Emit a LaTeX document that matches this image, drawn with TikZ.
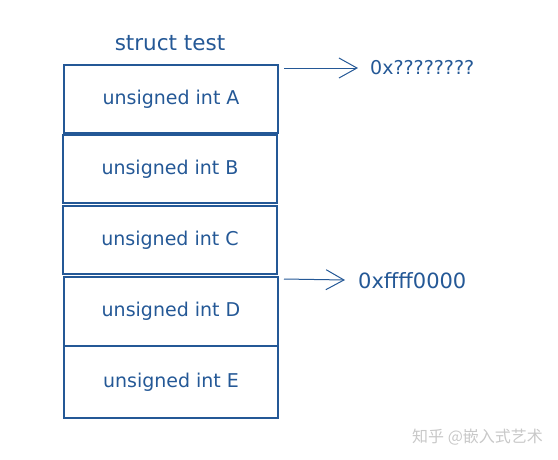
\documentclass[tikz,border=0pt]{standalone}
\usepackage{fontspec}
\setmainfont{DejaVu Sans}
\newfontfamily\cjk{Noto Sans CJK SC}
\usetikzlibrary{arrows.meta,calc}
\definecolor{ink}{RGB}{36,88,150}
\definecolor{wm}{RGB}{200,200,200}
\tikzset{
  field/.style={draw=ink, line width=1.8pt, text=ink, font=\fontsize{19}{22}\selectfont,
    minimum width=214pt, inner sep=0pt, anchor=center},
  lbl/.style={text=ink, font=\fontsize{19}{22}\selectfont, inner sep=0pt},
  ptr/.style={draw=ink, line width=1pt, -{Straight Barb[length=18pt,width=20pt,line width=1pt]}}
}
\begin{document}
\begin{tikzpicture}[x=1pt,y=-1pt]
\useasboundingbox (0,0) rectangle (558,459);
\node[lbl, font=\fontsize{21.5}{24}\selectfont] (title) at (170,43) {struct test};
\node[field, minimum height=68pt] (A) at (171,99) {unsigned int A};
\node[field, minimum height=68pt] (B) at (170,169) {unsigned int B};
\node[field, minimum height=68pt] (C) at (170,240) {unsigned int C};
\node[field, minimum height=69pt] (D) at (171,311.5) {unsigned int D};
\node[field, minimum height=72pt] (E) at (171,382) {unsigned int E};
\node[lbl, anchor=west] (pa) at (370,68) {0x????????};
\node[lbl, anchor=west, font=\fontsize{21}{24}\selectfont] (pd) at (358,281) {0xffff0000};
\coordinate (sa) at (284,68);
\coordinate (sd) at (284,279);
\draw[ptr] (sa) -- ($(pa.west)+(-12,0)$);
\draw[ptr] (sd) -- ($(pd.west)+(-13,-1)$);
\node[text=wm, font=\cjk\fontsize{16}{18}\selectfont, anchor=west, inner sep=0pt] (wmk) at (412,437) {知乎 @嵌入式艺术};
\end{tikzpicture}
\end{document}
